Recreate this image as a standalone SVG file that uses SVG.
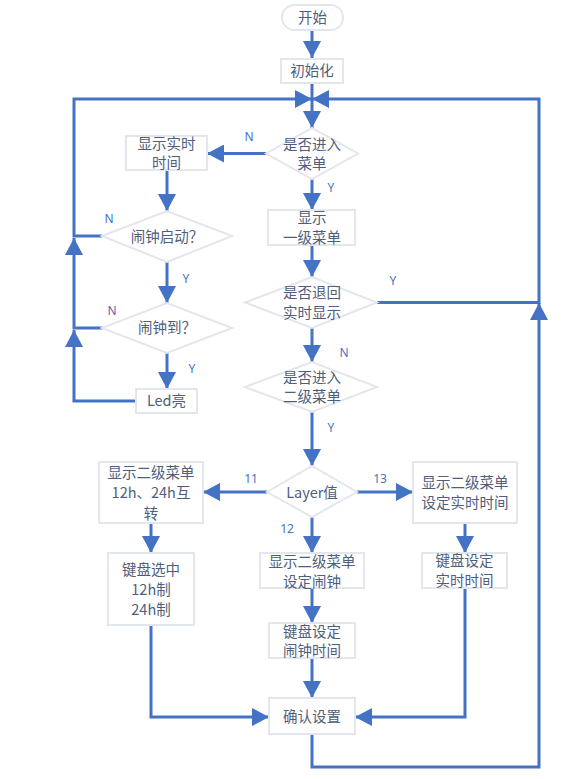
<svg xmlns="http://www.w3.org/2000/svg" width="577" height="779" viewBox="0 0 577 779">
<style>
.b{fill:#fff;stroke:#E3E6ED;stroke-width:2}
.t{font-family:"Noto Sans CJK SC","Noto Sans",sans-serif;font-size:14.5px;fill:#4F5E7C;text-anchor:middle}
.l{font-family:"Noto Sans","Liberation Sans",sans-serif;font-size:12px;fill:#4472C4;text-anchor:middle}
.c{fill:none;stroke:#4472C4;stroke-width:3}
</style>
<defs>
<marker id="a" markerUnits="userSpaceOnUse" markerWidth="18" markerHeight="18" refX="17" refY="9" orient="auto"><path d="M0,0 L17,9 L0,18 z" fill="#4472C4"/></marker>
</defs>
<rect width="577" height="779" fill="#fff"/>
<g id="connectors">
<path class="c" d="M312,30 V58" marker-end="url(#a)"/>
<path class="c" d="M312,83 V128" marker-end="url(#a)"/>
<path class="c" d="M266,153.5 H207" marker-end="url(#a)"/>
<path class="c" d="M312,179 V210" marker-end="url(#a)"/>
<path class="c" d="M167,170 V211" marker-end="url(#a)"/>
<path class="c" d="M167,262 V303" marker-end="url(#a)"/>
<path class="c" d="M167,353 V389" marker-end="url(#a)"/>
<path class="c" d="M136,401 H74 V330" marker-end="url(#a)"/>
<path class="c" d="M102,328 H74 V238" marker-end="url(#a)"/>
<path class="c" d="M102,236 H74 V99 H312" marker-end="url(#a)"/>
<path class="c" d="M312,245 V277" marker-end="url(#a)"/>
<path class="c" d="M377,302.5 H539 V99 H312" marker-end="url(#a)"/>
<path class="c" d="M312,328 V362" marker-end="url(#a)"/>
<path class="c" d="M312,412 V466" marker-end="url(#a)"/>
<path class="c" d="M267,492 H203" marker-end="url(#a)"/>
<path class="c" d="M357,492 H413" marker-end="url(#a)"/>
<path class="c" d="M312,517 V553" marker-end="url(#a)"/>
<path class="c" d="M151,523 V553" marker-end="url(#a)"/>
<path class="c" d="M465,523 V553" marker-end="url(#a)"/>
<path class="c" d="M312,588 V623" marker-end="url(#a)"/>
<path class="c" d="M312,658 V698" marker-end="url(#a)"/>
<path class="c" d="M151,625 V717 H269" marker-end="url(#a)"/>
<path class="c" d="M465,588 V717 H355" marker-end="url(#a)"/>
<path class="c" d="M312,734 V767 H539 V303" marker-end="url(#a)"/>
<text class="l" x="249" y="141">N</text>
<text class="l" x="331" y="192">Y</text>
<text class="l" x="109" y="223">N</text>
<text class="l" x="186" y="283">Y</text>
<text class="l" x="112" y="315" style="fill:#6A5CAE">N</text>
<text class="l" x="192" y="373">Y</text>
<text class="l" x="393" y="285">Y</text>
<text class="l" x="344" y="357">N</text>
<text class="l" x="331" y="432">Y</text>
<text class="l" x="251" y="483">11</text>
<text class="l" x="380" y="483">13</text>
<text class="l" x="287" y="533">12</text>
</g>
<g id="start"><rect class="b" x="282" y="5" width="61" height="25" rx="12.5"/><text class="t" x="312.5" y="22.5">开始</text></g>
<g id="init"><rect class="b" x="281" y="59" width="62" height="24"/><text class="t" x="312" y="76">初始化</text></g>
<g id="enterMenu"><polygon class="b" points="266,153.5 312,128 358,153.5 312,179"/><text class="t" x="312" y="150">是否进入</text><text class="t" x="312" y="169">菜单</text></g>
<g id="showTime"><rect class="b" x="126" y="136" width="81" height="34"/><text class="t" x="166.5" y="148.5">显示实时</text><text class="t" x="166.5" y="167.5">时间</text></g>
<g id="alarmOn"><polygon class="b" points="102,236 167,211 232,236 167,262"/><text class="t" x="167" y="242">闹钟启动？</text></g>
<g id="alarmDue"><polygon class="b" points="102,328 167,303 232,328 167,353"/><text class="t" x="167" y="333">闹钟到？</text></g>
<g id="led"><rect class="b" x="136" y="389" width="61" height="24"/><text class="t" x="166.5" y="406">Led亮</text></g>
<g id="menu1"><rect class="b" x="268" y="210" width="87" height="35"/><text class="t" x="312" y="223">显示</text><text class="t" x="312" y="242.5">一级菜单</text></g>
<g id="backToTime"><polygon class="b" points="245,302.5 312,277 377,302.5 312,328"/><text class="t" x="312" y="298">是否退回</text><text class="t" x="312" y="318">实时显示</text></g>
<g id="enterMenu2"><polygon class="b" points="245,387 312,362 377,387 312,412"/><text class="t" x="312" y="383">是否进入</text><text class="t" x="312" y="402">二级菜单</text></g>
<g id="layer"><polygon class="b" points="267,492 312,466 357,492 312,517"/><text class="t" x="312" y="498">Layer值</text></g>
<g id="menu2a"><rect class="b" x="99" y="462" width="104" height="61"/><text class="t" x="151" y="478">显示二级菜单</text><text class="t" x="151" y="498">12h、24h互</text><text class="t" x="151" y="519">转</text></g>
<g id="menu2c"><rect class="b" x="413" y="462" width="104" height="61"/><text class="t" x="465" y="488">显示二级菜单</text><text class="t" x="465" y="508">设定实时时间</text></g>
<g id="menu2b"><rect class="b" x="260" y="553" width="104" height="35"/><text class="t" x="312" y="567">显示二级菜单</text><text class="t" x="312" y="587">设定闹钟</text></g>
<g id="select12"><rect class="b" x="108" y="553" width="86" height="72"/><text class="t" x="151" y="575">键盘选中</text><text class="t" x="151" y="595">12h制</text><text class="t" x="151" y="615">24h制</text></g>
<g id="setTime"><rect class="b" x="422" y="553" width="85" height="35"/><text class="t" x="464.5" y="566">键盘设定</text><text class="t" x="464.5" y="586">实时时间</text></g>
<g id="setAlarm"><rect class="b" x="269" y="623" width="86" height="35"/><text class="t" x="312" y="637">键盘设定</text><text class="t" x="312" y="656">闹钟时间</text></g>
<g id="confirm"><rect class="b" x="269" y="698" width="86" height="36"/><text class="t" x="312" y="722">确认设置</text></g>
</svg>
